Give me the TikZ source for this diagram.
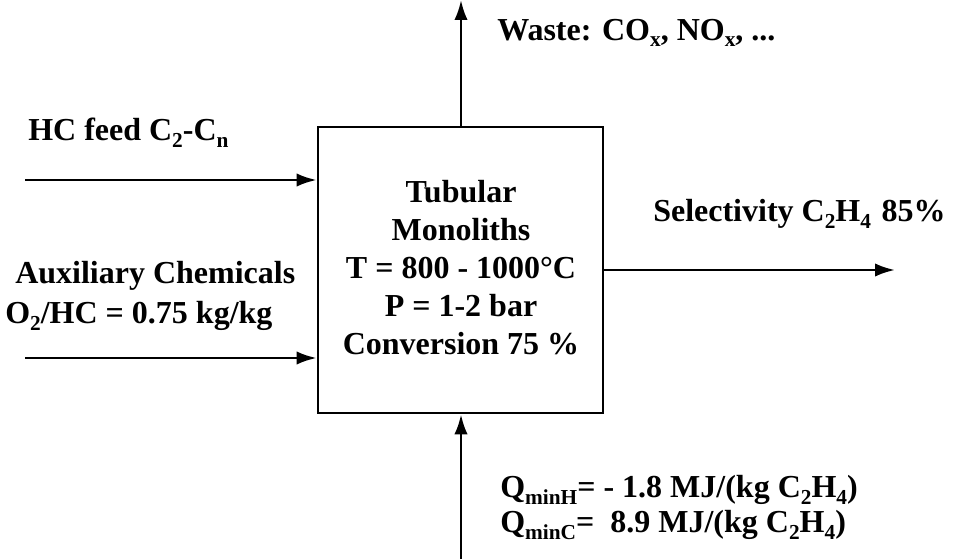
\documentclass[tikz,border=0pt]{standalone}
\usepackage{fontspec}
\setmainfont{Liberation Serif}
\usetikzlibrary{arrows.meta}
\newcommand{\sbx}[1]{\raisebox{-0.45ex}{\fontsize{16}{16}\selectfont #1}}
\begin{document}
\begin{tikzpicture}[x=0.75pt,y=-0.75pt,
  lbl/.style={font=\bfseries\fontsize{24}{28}\selectfont,inner sep=0pt},
  flow/.style={line width=2pt,-{Latex[length=15pt,width=10pt]}}]
\useasboundingbox (0,0) rectangle (959,559);
\node[draw,line width=2pt,minimum width=213.75pt,minimum height=214.5pt,inner sep=0pt] (box) at (460.5,270) {};
\node[lbl,align=center,font=\bfseries\fontsize{24}{28.5}\selectfont] (c) at (461,268) {Tubular\\Monoliths\\T = 800 - 1000°C\\P = 1-2 bar\\Conversion 75 \%};
\coordinate (top) at (461,0);
\coordinate (bot) at (461,559);
\coordinate (l1) at (25,180);
\coordinate (l2) at (25,358);
\coordinate (r) at (895,270);
\draw[flow] (box.north -| top) -- (top);
\draw[flow] (bot) -- (box.south -| bot);
\draw[flow] (l1) -- (box.west |- l1);
\draw[flow] (l2) -- (box.west |- l2);
\draw[flow] (box.east |- r) -- (r);
\node[lbl,anchor=west] (w) at (497,33) {Waste: CO\sbx{x}, NO\sbx{x}, ...};
\node[lbl,anchor=west] (hc) at (28,133) {HC feed C\sbx{2}-C\sbx{n}};
\node[lbl,anchor=west] (s) at (653,214) {Selectivity C\sbx{2}H\sbx{4}\,\,85\%};
\node[lbl,anchor=west] (a1) at (15,276) {Auxiliary Chemicals};
\node[lbl,anchor=west] (a2) at (5,316) {O\sbx{2}/HC = 0.75 kg/kg};
\node[lbl,anchor=west] (q1) at (500,490) {Q\sbx{minH}= - 1.8 MJ/(kg C\sbx{2}H\sbx{4})};
\node[lbl,anchor=west] (q2) at (500,525) {Q\sbx{minC}=\ \ 8.9 MJ/(kg C\sbx{2}H\sbx{4})};
\end{tikzpicture}
\end{document}
